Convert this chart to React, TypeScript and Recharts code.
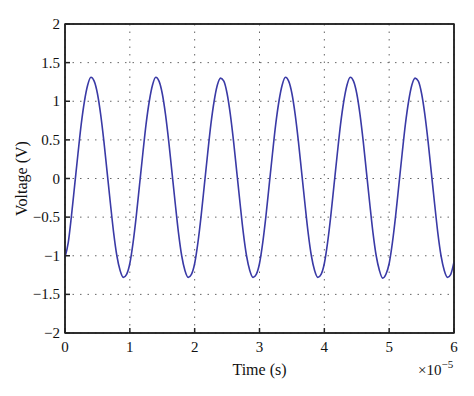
import { CartesianGrid, Label, Line, LineChart, ReferenceArea, XAxis, YAxis } from 'recharts'

// time in units of 1e-5 s
const times = [
  0, 0.05, 0.1, 0.15, 0.2, 0.25, 0.3, 0.35, 0.4, 0.45, 0.5, 0.55, 0.6, 0.65, 0.7, 0.75, 0.8, 0.85, 0.9, 0.95,
  1, 1.05, 1.1, 1.15, 1.2, 1.25, 1.3, 1.35, 1.4, 1.45, 1.5, 1.55, 1.6, 1.65, 1.7, 1.75, 1.8, 1.85, 1.9, 1.95,
  2, 2.05, 2.1, 2.15, 2.2, 2.25, 2.3, 2.35, 2.4, 2.45, 2.5, 2.55, 2.6, 2.65, 2.7, 2.75, 2.8, 2.85, 2.9, 2.95,
  3, 3.05, 3.1, 3.15, 3.2, 3.25, 3.3, 3.35, 3.4, 3.45, 3.5, 3.55, 3.6, 3.65, 3.7, 3.75, 3.8, 3.85, 3.9, 3.95,
  4, 4.05, 4.1, 4.15, 4.2, 4.25, 4.3, 4.35, 4.4, 4.45, 4.5, 4.55, 4.6, 4.65, 4.7, 4.75, 4.8, 4.85, 4.9, 4.95,
  5, 5.05, 5.1, 5.15, 5.2, 5.25, 5.3, 5.35, 5.4, 5.45, 5.5, 5.55, 5.6, 5.65, 5.7, 5.75, 5.8, 5.85, 5.9, 5.95,
  6
]

const voltage = [
  -1.02, -0.83, -0.48, -0.08, 0.32, 0.7, 1.0, 1.21, 1.31, 1.26, 1.1, 0.83, 0.48, 0.08, -0.32, -0.7, -1.0, -1.19, -1.28, -1.24,
  -1.1, -0.83, -0.48, -0.08, 0.32, 0.7, 1.0, 1.21, 1.31, 1.26, 1.1, 0.83, 0.48, 0.08, -0.32, -0.7, -1.0, -1.19, -1.28, -1.24,
  -1.1, -0.83, -0.48, -0.08, 0.32, 0.7, 1.0, 1.21, 1.3, 1.26, 1.1, 0.83, 0.48, 0.08, -0.32, -0.7, -1.0, -1.19, -1.28, -1.24,
  -1.1, -0.83, -0.48, -0.08, 0.32, 0.7, 1.0, 1.21, 1.31, 1.26, 1.1, 0.83, 0.48, 0.08, -0.32, -0.7, -1.0, -1.19, -1.28, -1.24,
  -1.1, -0.83, -0.48, -0.08, 0.32, 0.7, 1.0, 1.21, 1.31, 1.26, 1.1, 0.83, 0.48, 0.08, -0.32, -0.7, -1.0, -1.19, -1.29, -1.24,
  -1.1, -0.83, -0.48, -0.08, 0.32, 0.7, 1.0, 1.21, 1.3, 1.26, 1.1, 0.83, 0.48, 0.08, -0.32, -0.7, -1.0, -1.19, -1.28, -1.24,
  -1.08
]

const xTicks = [0, 1, 2, 3, 4, 5, 6]
const yTicks = [-2, -1.5, -1, -0.5, 0, 0.5, 1, 1.5, 2]

const data = times.map((t, i) => ({ t, v: voltage[i] }))

const font = '"Liberation Serif", "DejaVu Serif", serif'
const axisColor = '#222'
const fmt = (n: number) => String(n).replace('-', '\u2212')

const XTick = ({ x, y, payload }: any) => (
  <text x={x} y={y} dy={10} textAnchor="middle" fontFamily={font} fontSize={15} fill="#111">
    {fmt(payload.value)}
  </text>
)

const YTick = ({ x, y, payload }: any) => (
  <text x={x} y={y} dy={5} textAnchor="end" fontFamily={font} fontSize={15} fill="#111">
    {fmt(payload.value)}
  </text>
)

export default function App() {
  return (
    <div style={{ position: 'absolute', left: 0, top: 0, background: '#fff' }}>
      <LineChart width={474} height={396} data={data} margin={{ top: 23, right: 19, bottom: 33, left: 0 }}>
        <CartesianGrid stroke="#666" strokeDasharray="1.5 6" strokeWidth={1} />
        <XAxis
          dataKey="t"
          type="number"
          domain={[0, 6]}
          ticks={xTicks}
          height={30}
          tickSize={-5}
          tickMargin={14}
          tick={XTick}
          stroke={axisColor}
          strokeWidth={1.5}
        >
          <Label
            position="bottom"
            offset={0}
            content={({ viewBox }: any) => (
              <g>
                <text x={viewBox.x + viewBox.width / 2} y={viewBox.y + viewBox.height + 12} textAnchor="middle" fontFamily={font} fontSize={16} fill="#111">
                  Time (s)
                </text>
                <text x={viewBox.x + viewBox.width - 36} y={viewBox.y + viewBox.height + 12} fontFamily={font} fontSize={15} fill="#111">
                  ×10<tspan dy={-7} fontSize={11}>−5</tspan>
                </text>
              </g>
            )}
          />
        </XAxis>
        <XAxis
          xAxisId="top"
          dataKey="t"
          orientation="top"
          type="number"
          domain={[0, 6]}
          ticks={xTicks}
          height={1}
          tickSize={-5}
          tick={false}
          stroke={axisColor}
          strokeWidth={1.5}
        />
        <YAxis
          type="number"
          domain={[-2, 2]}
          ticks={yTicks}
          width={65}
          tickSize={-5}
          tickMargin={10}
          tick={YTick}
          stroke={axisColor}
          strokeWidth={1.5}
        >
          <Label
            content={({ viewBox }: any) => (
              <text
                x={23}
                y={viewBox.y + viewBox.height / 2}
                transform={`rotate(-90, 23, ${viewBox.y + viewBox.height / 2})`}
                textAnchor="middle"
                dominantBaseline="middle"
                fontFamily={font}
                fontSize={16}
                fill="#111"
              >
                Voltage (V)
              </text>
            )}
          />
        </YAxis>
        <YAxis
          yAxisId="right"
          orientation="right"
          type="number"
          domain={[-2, 2]}
          ticks={yTicks}
          width={1}
          tickSize={-5}
          tick={false}
          stroke={axisColor}
          strokeWidth={1.5}
        />
        <ReferenceArea x1={0} x2={6} y1={-2} y2={2} fill="none" stroke={axisColor} strokeWidth={1.5} />
        {/* invisible copy so the top/right frame axes are used */}
        <Line
          xAxisId="top"
          yAxisId="right"
          dataKey="v"
          stroke="none"
          dot={false}
          activeDot={false}
          legendType="none"
          isAnimationActive={false}
        />
        <Line
          type="monotone"
          dataKey="v"
          stroke="#3a3aa6"
          strokeWidth={1.6}
          dot={false}
          isAnimationActive={false}
        />
      </LineChart>
    </div>
  )
}
